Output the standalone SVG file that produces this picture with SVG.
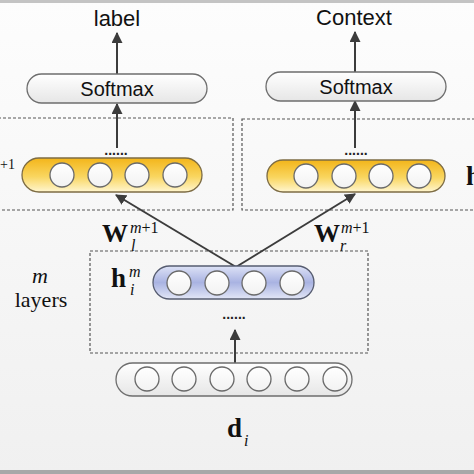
<svg xmlns="http://www.w3.org/2000/svg" width="474" height="474" viewBox="0 0 474 474">
<defs>
<linearGradient id="bg" x1="0" y1="0" x2="0" y2="1"><stop offset="0" stop-color="#fdfdfd"/><stop offset="1" stop-color="#f0f0f0"/></linearGradient>
<linearGradient id="gWhite" x1="0" y1="0" x2="0" y2="1"><stop offset="0" stop-color="#ffffff"/><stop offset="1" stop-color="#e6e6e6"/></linearGradient>
<linearGradient id="gYellow" x1="0" y1="0" x2="0" y2="1"><stop offset="0" stop-color="#f3b51a"/><stop offset="0.55" stop-color="#f9d660"/><stop offset="1" stop-color="#fff6d0"/></linearGradient>
<linearGradient id="gBlue" x1="0" y1="0" x2="0" y2="1"><stop offset="0" stop-color="#dde2f6"/><stop offset="0.5" stop-color="#a9b3e2"/><stop offset="1" stop-color="#e2e6f6"/></linearGradient>
<linearGradient id="gCircle" x1="0" y1="0" x2="0" y2="1"><stop offset="0" stop-color="#ffffff"/><stop offset="1" stop-color="#f2f2f2"/></linearGradient>
<marker id="ah" viewBox="0 0 10 10" refX="9" refY="5" markerWidth="5.5" markerHeight="5.5" orient="auto" markerUnits="strokeWidth"><path d="M0,0 L10,5 L0,10 z" fill="#3c3c3c"/></marker>
</defs>
<style>
.sans{font-family:"Liberation Sans",Arial,sans-serif;fill:#111}
.ser{font-family:"Liberation Serif","Times New Roman",serif;fill:#111}
.b{font-weight:bold}
.it{font-style:italic}
.box{fill:none;stroke:#555;stroke-width:1.2;stroke-dasharray:3 2}
.pillW{fill:url(#gWhite);stroke:#6e6e6e;stroke-width:1.3}
.pillY{fill:url(#gYellow);stroke:#7d6c44;stroke-width:1.3}
.pillB{fill:url(#gBlue);stroke:#565c70;stroke-width:1.3}
.c{fill:url(#gCircle);stroke:#6a6a6a;stroke-width:1.3}
.arr{stroke:#3c3c3c;stroke-width:2;fill:none;marker-end:url(#ah)}
.dots{font-family:"Liberation Sans",Arial,sans-serif;font-weight:bold;font-size:14px;fill:#222}
</style>
<rect x="0" y="0" width="474" height="474" fill="url(#bg)"/>
<rect x="0" y="0" width="474" height="3" fill="#c4c4c4"/>
<rect x="0" y="470" width="474" height="4" fill="#a8a8a8"/>

<g id="box-left"><rect class="box" x="-2" y="118" width="235" height="92"/></g>
<g id="box-right"><rect class="box" x="242" y="119" width="240" height="91"/></g>
<g id="box-middle"><rect class="box" x="90" y="251" width="278" height="102"/></g>

<g id="connectors">
<line class="arr" x1="117" y1="74" x2="117" y2="33"/>
<line class="arr" x1="355" y1="72" x2="355" y2="32"/>
<line class="arr" x1="117" y1="148" x2="117" y2="104"/>
<line class="arr" x1="355" y1="148" x2="355" y2="101"/>
<line class="arr" x1="236" y1="267" x2="116" y2="195"/>
<line class="arr" x1="236" y1="267" x2="355" y2="194"/>
<line class="arr" x1="235" y1="363" x2="235" y2="330"/>
</g>

<g id="label-top"><text class="sans" x="117" y="26" font-size="22" text-anchor="middle">label</text></g>
<g id="context-top"><text class="sans" x="354" y="25" font-size="22" text-anchor="middle">Context</text></g>

<g id="softmax-left">
<rect class="pillW" x="27" y="74" width="180" height="29" rx="14.5"/>
<text class="sans" x="117" y="96" font-size="20" text-anchor="middle">Softmax</text>
</g>
<g id="softmax-right">
<rect class="pillW" x="266" y="72" width="180" height="29" rx="14.5"/>
<text class="sans" x="356" y="94" font-size="20" text-anchor="middle">Softmax</text>
</g>

<g id="hidden-left">
<text class="dots" x="116" y="155" text-anchor="middle">......</text>
<rect class="pillY" x="22" y="158" width="180" height="34" rx="17"/>
<circle class="c" cx="62" cy="175" r="12"/>
<circle class="c" cx="100" cy="175" r="12"/>
<circle class="c" cx="137" cy="175" r="12"/>
<circle class="c" cx="175" cy="175" r="12"/>
<text class="ser" x="0" y="169" font-size="14">+1</text>
</g>

<g id="hidden-right">
<text class="dots" x="356" y="155" text-anchor="middle">......</text>
<rect class="pillY" x="267" y="160" width="178" height="32" rx="16"/>
<circle class="c" cx="306" cy="176" r="12"/>
<circle class="c" cx="344" cy="176" r="12"/>
<circle class="c" cx="381" cy="176" r="12"/>
<circle class="c" cx="419" cy="176" r="12"/>
<text class="ser b" x="466" y="185" font-size="27">h</text>
</g>

<g id="weight-left">
<text class="ser b" x="102" y="242" font-size="26">W</text>
<text class="ser" x="130" y="233" font-size="16"><tspan class="it">m</tspan>+1</text>
<text class="ser it" x="131" y="251" font-size="16">l</text>
</g>
<g id="weight-right">
<text class="ser b" x="314" y="242" font-size="26">W</text>
<text class="ser" x="341" y="233" font-size="16"><tspan class="it">m</tspan>+1</text>
<text class="ser it" x="340" y="251" font-size="16">r</text>
</g>

<g id="m-layers">
<text class="ser it" x="40" y="283" font-size="22" text-anchor="middle">m</text>
<text class="ser" x="41" y="307" font-size="22" text-anchor="middle">layers</text>
</g>

<g id="hidden-m">
<text class="ser b" x="111" y="287" font-size="27">h</text>
<text class="ser it" x="129" y="277" font-size="16">m</text>
<text class="ser it" x="130" y="295" font-size="16">i</text>
<rect class="pillB" x="153" y="266" width="161" height="33" rx="16.5"/>
<circle class="c" cx="179" cy="283" r="12"/>
<circle class="c" cx="217" cy="283" r="12"/>
<circle class="c" cx="254" cy="283" r="12"/>
<circle class="c" cx="292" cy="283" r="12"/>
<text class="dots" x="234" y="319" text-anchor="middle">......</text>
</g>

<g id="input-d">
<rect class="pillW" x="116" y="363" width="236" height="33" rx="16.5"/>
<circle class="c" cx="147" cy="379" r="12"/>
<circle class="c" cx="184" cy="379" r="12"/>
<circle class="c" cx="222" cy="379" r="12"/>
<circle class="c" cx="259" cy="379" r="12"/>
<circle class="c" cx="297" cy="379" r="12"/>
<circle class="c" cx="335" cy="379" r="12"/>
<text class="ser b" x="227" y="437" font-size="27">d</text>
<text class="ser it" x="244" y="446" font-size="16">i</text>
</g>
</svg>
